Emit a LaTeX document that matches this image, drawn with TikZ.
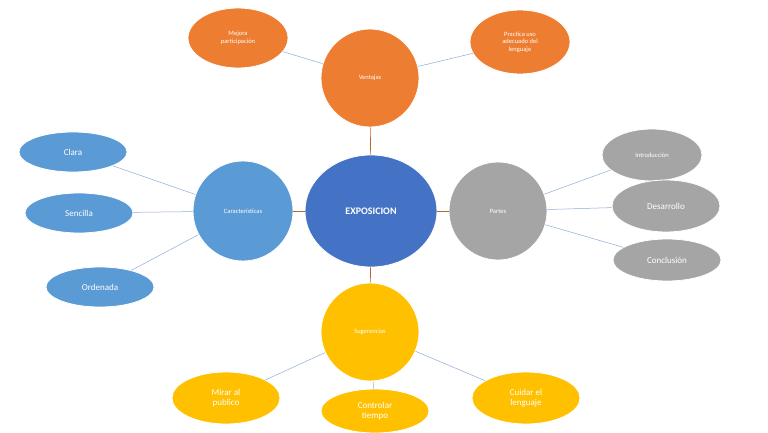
\documentclass[tikz,border=0pt]{standalone}
\usepackage{fontspec}
\setmainfont{Carlito}
\usetikzlibrary{shapes.geometric}
\definecolor{cor}{HTML}{ED7D31}
\definecolor{cbl}{HTML}{5B9BD5}
\definecolor{cdb}{HTML}{4472C4}
\definecolor{cgr}{HTML}{A5A5A5}
\definecolor{cgo}{HTML}{FFC000}
\definecolor{cln}{HTML}{8FAADC}
\tikzset{
 bub/.style={ellipse,draw=white,line width=0.8pt,text=white,align=center,inner sep=0pt},
 sm/.style={font=\fontsize{6.5}{7.5}\selectfont},
 md/.style={font=\fontsize{9}{10}\selectfont},
 lnk/.style={draw=cln,line width=0.5pt},
 mlk/.style={draw=cor!80!black,line width=0.6pt}
}
\begin{document}
\begin{tikzpicture}[x=1pt,y=-1pt]
\useasboundingbox (0,0) rectangle (768,433);
\fill[white] (0,0) rectangle (768,433);
\node[bub,fill=cdb,minimum width=132,minimum height=112,font=\bfseries\fontsize{10}{12}\selectfont] (c) at (371,211) {EXPOSICION};
\node[bub,fill=cor,minimum width=98,minimum height=98,sm] (v) at (370,78) {Ventajas};
\node[bub,fill=cbl,minimum width=100,minimum height=100,sm] (k) at (243,211) {Características};
\node[bub,fill=cgr,minimum width=98,minimum height=98,sm] (p) at (498,211) {Partes};
\node[bub,fill=cgo,minimum width=98,minimum height=98,sm] (s) at (370,332) {Sugerencias};
\node[bub,fill=cor,minimum width=100,minimum height=60,sm] (v1) at (238,38) {Mejora\\participación};
\node[bub,fill=cor,minimum width=100,minimum height=64,sm] (v2) at (520,42) {Practica uso\\adecuado del\\lenguaje};
\node[bub,fill=cbl,minimum width=108,minimum height=40,md] (k1) at (73,152) {Clara};
\node[bub,fill=cbl,minimum width=108,minimum height=40,md] (k2) at (79,213) {Sencilla};
\node[bub,fill=cbl,minimum width=108,minimum height=40,md] (k3) at (100,287) {Ordenada};
\node[bub,fill=cgr,minimum width=100,minimum height=52,sm] (p1) at (652,155) {Introducción};
\node[bub,fill=cgr,minimum width=108,minimum height=52,md] (p2) at (666,206) {Desarrollo};
\node[bub,fill=cgr,minimum width=108,minimum height=42,md] (p3) at (667,260) {Conclusión};
\node[bub,fill=cgo,minimum width=108,minimum height=52,md] (s1) at (226,398) {Mirar al\\publico};
\node[bub,fill=cgo,minimum width=108,minimum height=44,md] (s2) at (375,411) {Controlar\\tiempo};
\node[bub,fill=cgo,minimum width=108,minimum height=52,md] (s3) at (526,398) {Cuidar el\\lenguaje};
\begin{scope}[on background layer/.style={}]
\end{scope}
\draw[mlk] (c) -- (v); \draw[mlk] (c) -- (k); \draw[mlk] (c) -- (p); \draw[mlk] (c) -- (s);
\draw[lnk] (v1) -- (v); \draw[lnk] (v2) -- (v);
\draw[lnk] (k1) -- (k); \draw[lnk] (k2) -- (k); \draw[lnk] (k3) -- (k);
\draw[lnk] (p1) -- (p); \draw[lnk] (p2) -- (p); \draw[lnk] (p3) -- (p);
\draw[lnk] (s1) -- (s); \draw[lnk] (s2) -- (s); \draw[lnk] (s3) -- (s);
\end{tikzpicture}
\end{document}
